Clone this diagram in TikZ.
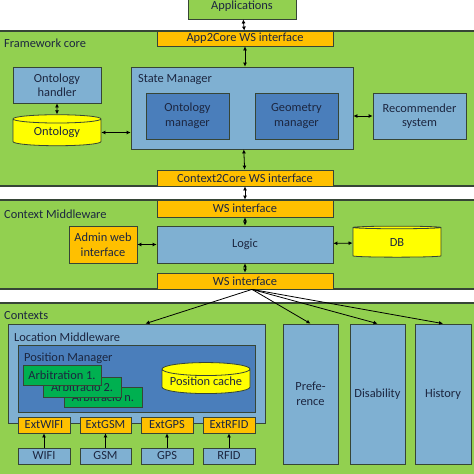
\documentclass[tikz,border=0pt]{standalone}
\usepackage{fontspec}
\setmainfont{Carlito}
\usetikzlibrary{arrows.meta,shapes.geometric}
\definecolor{bandgreen}{HTML}{92D050}
\definecolor{wsorange}{HTML}{FFC000}
\definecolor{lightblue}{HTML}{7FB0D2}
\definecolor{darkblue}{HTML}{4A7EBB}
\definecolor{arbgreen}{HTML}{00B050}
\definecolor{cacheyellow}{HTML}{FFFF00}
\definecolor{edge}{HTML}{364536}
\definecolor{ink}{HTML}{1C2640}
\begin{document}
\begin{tikzpicture}[x=1pt,y=-1pt,
  box/.style={draw=edge, line width=0.8pt, inner sep=1pt, align=center, text=ink,
    font=\fontsize{12.4}{14.5}\selectfont},
  band/.style={box, fill=bandgreen, line width=1.2pt},
  ws/.style={box, fill=wsorange},
  part/.style={box, fill=lightblue},
  inner/.style={box, fill=darkblue},
  arb/.style={box, fill=arbgreen, minimum width=78, minimum height=20},
  store/.style={box, fill=cacheyellow, cylinder, shape border rotate=90, aspect=0.18,
    inner sep=0pt},
  caption/.style={anchor=west, inner sep=0pt, text=ink, font=\fontsize{12.4}{14.5}\selectfont},
  link/.style={line width=0.8pt, {Latex[length=4pt,width=4pt]}-{Latex[length=4pt,width=4pt]}},
  feed/.style={line width=0.8pt, -{Latex[length=4pt,width=4pt]}}]
\useasboundingbox (0,0) rectangle (474,474);

% Bands
\node[band, minimum width=476, minimum height=155] (core) at (237,108.5) {};
\node[band, minimum width=476, minimum height=89] (middle) at (237,244.5) {};
\node[band, minimum width=476, minimum height=172] (contexts) at (237,389) {};
\node[caption] (corecap) at (4,43) {Framework core};
\node[caption] (middlecap) at (4,214) {Context Middleware};
\node[caption] (contextscap) at (4,316) {Contexts};

% Framework core
\node[band, line width=0.8pt, minimum width=108, minimum height=26] (apps) at (242,6) {Applications};
\node[ws, minimum width=176, minimum height=15] (app2core) at (245,38.5) {App2Core WS interface};
\node[part, minimum width=88, minimum height=36] (ontohandler) at (57,85) {Ontology\\handler};
\node[store, minimum width=88, minimum height=31] (onto) at (57,132.5) {Ontology};
\node[part, minimum width=222, minimum height=82] (statemgr) at (242,108) {};
\node[caption] (statecap) at (138,80) {State Manager};
\node[inner, minimum width=83, minimum height=46] (ontomgr) at (187.5,116) {Ontology\\manager};
\node[inner, minimum width=83, minimum height=46] (geomgr) at (296.5,116) {Geometry\\manager};
\node[part, minimum width=93, minimum height=46] (recomm) at (419.5,116) {Recommender\\system};
\node[ws, minimum width=176, minimum height=16] (ctx2core) at (245,178) {Context2Core WS interface};

% Context middleware
\node[ws, minimum width=176, minimum height=17] (wstop) at (245,208.5) {WS interface};
\node[ws, minimum width=68, minimum height=37] (admin) at (103,244.5) {Admin web\\interface};
\node[part, minimum width=176, minimum height=37] (logic) at (245,244.5) {Logic};
\node[store, minimum width=88, minimum height=31] (db) at (397,242.5) {DB};
\node[ws, minimum width=176, minimum height=16] (wsbot) at (245,281) {WS interface};

% Contexts
\node[part, minimum width=257, minimum height=99] (locmw) at (136.5,373.5) {};
\node[caption] (loccap) at (14,337) {Location Middleware};
\node[inner, minimum width=237, minimum height=67] (posmgr) at (136.5,378.5) {};
\node[caption] (poscap) at (24,358) {Position Manager};
\node[arb] (arbn) at (103,397) {Arbitracio n.};
\node[arb] (arb2) at (82,387) {Arbitracio 2.};
\node[arb] (arb1) at (62,375.5) {Arbitration 1.};
\node[store, minimum width=88, minimum height=31] (poscache) at (206,381.5) {Position cache};
\node[part, minimum width=55, minimum height=140] (pref) at (310.5,394) {Prefe-\\rence};
\node[part, minimum width=55, minimum height=140] (dis) at (377.5,394) {Disability};
\node[part, minimum width=56, minimum height=140] (hist) at (443,394) {History};

% Sensors and their extensions
\foreach \name/\label/\x/\w in {wifi/WIFI/44/52, gsm/GSM/105.5/51, gps/GPS/167/52, rfid/RFID/229/52}{
  \node[ws, minimum width=\w, minimum height=16] (ext\name) at (\x,425) {Ext\label};
  \node[part, minimum width=\w, minimum height=16] (\name) at (\x,456) {\label};
  \draw[feed] (\name) -- (ext\name);
}

% Connections
\draw[link] (apps) -- (app2core);
\draw[link] (app2core) -- (statemgr.north -| app2core);
\draw[link] (ontohandler) -- (onto);
\draw[link] (onto.east) -- (onto.east -| statemgr.west);
\draw[link] (recomm.west -| statemgr.east) -- (recomm.west);
\draw[link] (statemgr) -- (ctx2core);
\draw[link] (ctx2core) -- (wstop);
\draw[link] (wstop) -- (logic);
\draw[link] (admin) -- (logic);
\draw[link] (logic) -- (db);
\draw[link] (logic) -- (wsbot);
\foreach \target/\dx in {locmw/9, pref/0, dis/0, hist/0}
  \draw[feed] ([xshift=7]wsbot.south) -- ([xshift=\dx]\target.north);
\end{tikzpicture}
\end{document}
